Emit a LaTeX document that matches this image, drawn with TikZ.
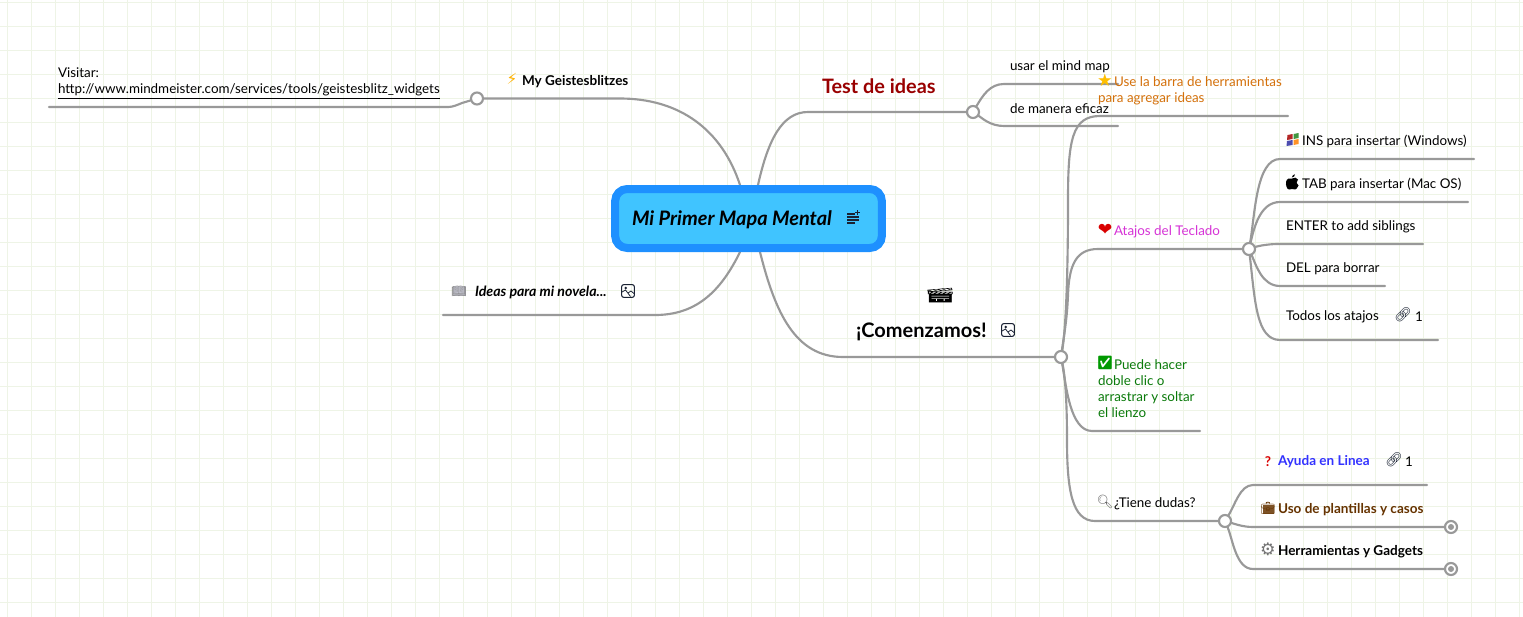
\documentclass[tikz,border=0pt]{standalone}
\usepackage{fontspec}
\setmainfont{Lato}
\newfontfamily\emo{Noto Emoji}
\newfontfamily\djvfont{DejaVu Sans}
\usetikzlibrary{calc}
\pgfdeclarelayer{gridl}\pgfdeclarelayer{edges}
\pgfsetlayers{gridl,edges,main}
\definecolor{gridc}{HTML}{EEF4E6}
\definecolor{linec}{HTML}{999999}
\definecolor{rootout}{HTML}{1E90FF}
\definecolor{rootin}{HTML}{40C4FF}
\definecolor{darkred}{HTML}{990000}
\definecolor{orangec}{HTML}{D4700A}
\definecolor{magc}{HTML}{D633D6}
\definecolor{greenc}{HTML}{0A7A0A}
\definecolor{bluec}{HTML}{3333FF}
\definecolor{brownc}{HTML}{663300}
\definecolor{iconc}{HTML}{1A2233}
\tikzset{
  x=0.75pt,y=-0.75pt,
  conn/.style={draw=linec,line width=1.6pt,line cap=round},
  txt/.style={anchor=west,inner sep=0pt,outer sep=0pt,font=\fontsize{10.05pt}{12.2pt}\selectfont,align=left,text=black,yshift=-1.6pt},
  bld/.style={txt,font=\fontsize{10.15pt}{12.2pt}\selectfont\bfseries},
  hub/.style={circle,draw=linec,line width=1.6pt,fill=white,minimum size=9pt,inner sep=0pt,outer sep=0pt},
  endc/.style={circle,draw=linec,line width=1.6pt,fill=white,minimum size=9pt,inner sep=0pt,outer sep=0pt},
  emj/.style={anchor=center,inner sep=0pt,outer sep=0pt,font=\emo\fontsize{9pt}{9pt}\selectfont},
  sym/.style={anchor=center,inner sep=0pt,outer sep=0pt,font=\djvfont\fontsize{11.5pt}{11.5pt}\selectfont},
  imgicon/.style={draw=iconc,line width=0.8pt,rounded corners=1.5pt,minimum size=9.5pt,inner sep=0pt,outer sep=0pt}
}
\newcommand{\imgdetail}[1]{%
  \draw[iconc,line width=0.6pt] ($(#1.center)+(-6,1)$) -- ($(#1.center)+(-2.5,-1)$) -- ($(#1.center)+(2.5,5.5)$);
  \draw[iconc,line width=0.6pt] ($(#1.center)+(0,2)$) -- ($(#1.center)+(3,0)$) -- ($(#1.center)+(6,2.5)$);
  \fill[iconc] ($(#1.center)+(-2.3,-3)$) circle (1.3);
}
\begin{document}
\begin{tikzpicture}
\useasboundingbox (0,0) rectangle (1523,617);
\begin{pgfonlayer}{gridl}
  \fill[white] (0,0) rectangle (1523,617);
  \foreach \i in {0,...,63}{\draw[gridc,line width=0.75pt] ({7.5+24*\i},0) -- ({7.5+24*\i},617);}
  \foreach \j in {0,...,25}{\draw[gridc,line width=0.75pt] (0,{2.5+24*\j}) -- (1523,{2.5+24*\j});}
\end{pgfonlayer}

% root
\node[draw=rootout,line width=6pt,fill=rootin,rounded corners=9pt,minimum width=200pt,minimum height=44.25pt,inner sep=0pt,outer sep=0pt] (root) at (748.5,218.5) {};
\node[txt,font=\fontsize{14.95pt}{16pt}\selectfont\bfseries\itshape] (rootlabel) at (632,218) {Mi Primer Mapa Mental};
\node[inner sep=0pt,minimum size=11pt] (noteicon) at (853,218) {};
\draw[iconc,line width=0.8pt] (847,214) -- (855,214) (847,217) -- (859,217) (847,220) -- (859,220) (847,223) -- (855,223) (857.5,210) -- (857.5,215) (855,212.5) -- (860,212.5);

% hubs
\node[hub] (hubgeist) at (477,98.5) {};
\node[hub] (hubtest) at (973,112) {};
\node[hub] (hubcom) at (1061,357) {};
\node[hub] (hubata) at (1249,249) {};
\node[hub] (hubdud) at (1225,521) {};
\node[endc] (endpl) at (1451,527) {};
\node[endc] (endhe) at (1451,569) {};
\fill[linec] (endpl) circle (3);
\fill[linec] (endhe) circle (3);

% free ends
\coordinate (rg) at (740,185);
\coordinate (rt) at (758,185);
\coordinate (ri) at (740,252);
\coordinate (rc) at (760,252);
\coordinate (evis) at (49,107);
\coordinate (enov) at (443,315);
\coordinate (eusa) at (1118,84);
\coordinate (eman) at (1118,126);
\coordinate (ebar) at (1288,116);
\coordinate (epue) at (1200,431);
\coordinate (eins) at (1474,159);
\coordinate (etab) at (1468,202);
\coordinate (eent) at (1423,244);
\coordinate (edel) at (1385,286);
\coordinate (etod) at (1438,340);
\coordinate (eayu) at (1427,485);

\begin{pgfonlayer}{edges}
  \draw[conn] (rg) .. controls (722,130) and (680,98.5) .. (620,98.5) -- (hubgeist);
  \draw[conn] (hubgeist) -- (462,103) .. controls (457,105) and (453,107) .. (448,107) -- (evis);
  \draw[conn] (ri) .. controls (720,293) and (695,315) .. (655,315) -- (enov);
  \draw[conn] (rt) .. controls (768,140) and (782,112) .. (808,112) -- (hubtest);
  \draw[conn] (hubtest) .. controls (983,95) and (990,84) .. (1004,84) -- (eusa);
  \draw[conn] (hubtest) .. controls (982,118) and (990,126) .. (1004,126) -- (eman);
  \draw[conn] (rc) .. controls (775,312) and (795,357) .. (843,357) -- (hubcom);
  \draw[conn] (hubcom) .. controls (1065,335) and (1068,290) .. (1068,200) .. controls (1068,140) and (1072,116) .. (1100,116) -- (ebar);
  \draw[conn] (hubcom) .. controls (1064,335) and (1067,320) .. (1068,295) .. controls (1069,265) and (1076,249) .. (1098,249) -- (hubata);
  \draw[conn] (hubcom) .. controls (1066,385) and (1070,431) .. (1092,431) -- (epue);
  \draw[conn] (hubcom) .. controls (1065,375) and (1067,400) .. (1067,440) .. controls (1067,490) and (1072,521) .. (1095,521) -- (hubdud);
  \draw[conn] (hubata) .. controls (1255,215) and (1256,159) .. (1280,159) -- (eins);
  \draw[conn] (hubata) .. controls (1254,228) and (1260,202) .. (1280,202) -- (etab);
  \draw[conn] (hubata) .. controls (1258,246) and (1268,244) .. (1278,244) -- (eent);
  \draw[conn] (hubata) .. controls (1256,265) and (1262,286) .. (1280,286) -- (edel);
  \draw[conn] (hubata) .. controls (1255,300) and (1256,340) .. (1280,340) -- (etod);
  \draw[conn] (hubdud) .. controls (1235,505) and (1240,485) .. (1253,485) -- (eayu);
  \draw[conn] (hubdud) .. controls (1235,524) and (1243,527) .. (1253,527) -- (endpl);
  \draw[conn] (hubdud) .. controls (1233,540) and (1236,569) .. (1253,569) -- (endhe);
\end{pgfonlayer}

% left
\node[txt] (visit) at (58,81) {Visitar:\\\underline{http://www.mindmeister.com/services/tools/geistesblitz\_widgets}};
\node[sym,text=orange!60!yellow] (bolt) at (512,79) {⚡};
\node[bld] (geist) at (522,79.5) {My Geistesblitzes};
\fill[blue!10!gray!45] (453,286) rectangle (466,296);
\node[emj,text=gray] (book) at (459,291) {📖};
\node[bld,font=\fontsize{10.6pt}{12pt}\selectfont\bfseries\itshape] (novela) at (475,290.5) {Ideas para mi novela...};
\node[imgicon] (imgnov) at (628,291) {};
\imgdetail{imgnov}

% test
\node[txt,font=\fontsize{14.9pt}{16pt}\selectfont\bfseries,text=darkred] (test) at (822,84) {Test de ideas};
\node[txt] (usar) at (1010,64.5) {usar el mind map};
\node[txt] (manera) at (1010,106.5) {de manera eficaz};

% comenzamos
\node[emj,font=\emo\fontsize{15pt}{15pt}\selectfont] (clap) at (940,296) {\scalebox{1.3}[0.72]{🎬}};
\node[txt,font=\fontsize{15pt}{16pt}\selectfont\bfseries] (com) at (856,329.5) {¡Comenzamos!};
\node[imgicon] (imgcom) at (1008,330) {};
\imgdetail{imgcom}

% second level
\node[sym,text=orange!50!yellow,font=\djvfont\fontsize{13pt}{13pt}\selectfont] (star) at (1105,80.5) {★};
\node[txt,text=orangec] (barra) at (1098,89) {\hspace*{12pt}Use la barra de herramientas\\para agregar ideas};
\node[sym,text=red!85!black,font=\djvfont\fontsize{13pt}{13pt}\selectfont] (heart) at (1105,230) {❤};
\node[txt,text=magc] (atajos) at (1114,229.5) {Atajos del Teclado};
\node[emj,text=green!60!black,font=\emo\fontsize{10pt}{10pt}\selectfont] (check) at (1105,362.5) {✅};
\node[txt,text=greenc] (puede) at (1098,386.5) {\hspace*{12pt}Puede hacer\\doble clic o\\arrastrar y soltar\\el lienzo};
\node[emj,text=black!60,font=\emo\fontsize{10pt}{10pt}\selectfont] (lupa) at (1105,502) {🔍};
\node[txt] (dudas) at (1114,501.5) {¿Tiene dudas?};

% atajos children
\node[inner sep=0pt,minimum size=10pt] (winicon) at (1293,140) {};
\fill[red!65!black!85] (1287.5,135) -- (1292.5,134) -- (1292.5,139) -- (1287,140) -- cycle;
\fill[green!45!black!75] (1293.5,134) -- (1298.5,133) -- (1298.5,138) -- (1293.5,139) -- cycle;
\fill[blue!55!black!70] (1287,141) -- (1292.5,140) -- (1292.5,145) -- (1286.5,146) -- cycle;
\fill[orange!85] (1293.5,140) -- (1298.5,139) -- (1298.5,144) -- (1293.5,145) -- cycle;
\node[txt] (ins) at (1302,139.5) {INS para insertar (Windows)};
\node[inner sep=0pt,minimum size=10pt] (appleicon) at (1292,183) {};
\fill[black] (1292,178.5) .. controls (1294,177) and (1297,177.5) .. (1298,179.5) .. controls (1296,181) and (1296,184.5) .. (1298.5,185.5) .. controls (1297.5,188) and (1296,189.5) .. (1295,189.5) .. controls (1294,189.5) and (1293,189) .. (1292,189) .. controls (1291,189) and (1290,189.5) .. (1289,189.5) .. controls (1287,189.5) and (1285.5,185) .. (1286,182) .. controls (1286.5,178.5) and (1290,177.5) .. (1292,178.5) -- cycle;
\fill[black] (1291.8,177.5) .. controls (1292,175.5) and (1293.5,174.5) .. (1295,174.3) .. controls (1295,176) and (1293.5,177.5) .. (1291.8,177.5) -- cycle;
\node[txt] (tab) at (1302,182.5) {TAB para insertar (Mac OS)};
\node[txt] (enter) at (1286,224.5) {ENTER to add siblings};
\node[txt] (del) at (1286,266.5) {DEL para borrar};
\node[txt] (todos) at (1286,314.5) {Todos los atajos};
\node[emj,text=iconc,font=\emo\fontsize{10.5pt}{10.5pt}\selectfont] (link1) at (1403,315) {🔗};
\node[txt] (n1) at (1415,314.5) {1};

% dudas children
\node[bld,anchor=center,text=red!85!black] (q) at (1268,459.5) {?};
\node[bld,text=bluec] (ayuda) at (1278,459.5) {Ayuda en Linea};
\node[emj,text=iconc,font=\emo\fontsize{10.5pt}{10.5pt}\selectfont] (link2) at (1394,460) {🔗};
\node[txt] (n2) at (1405,459.5) {1};
\fill[brownc!85] (1262.5,505) rectangle (1273.5,513.5);
\node[emj,text=brownc] (brief) at (1268,508) {💼};
\node[bld,text=brownc] (uso) at (1278,507.5) {Uso de plantillas y casos};
\node[sym,text=black!55,font=\djvfont\fontsize{13pt}{13pt}\selectfont] (gear) at (1268,549.5) {⚙};
\node[bld] (herr) at (1278,549.5) {Herramientas y Gadgets};
\end{tikzpicture}
\end{document}
